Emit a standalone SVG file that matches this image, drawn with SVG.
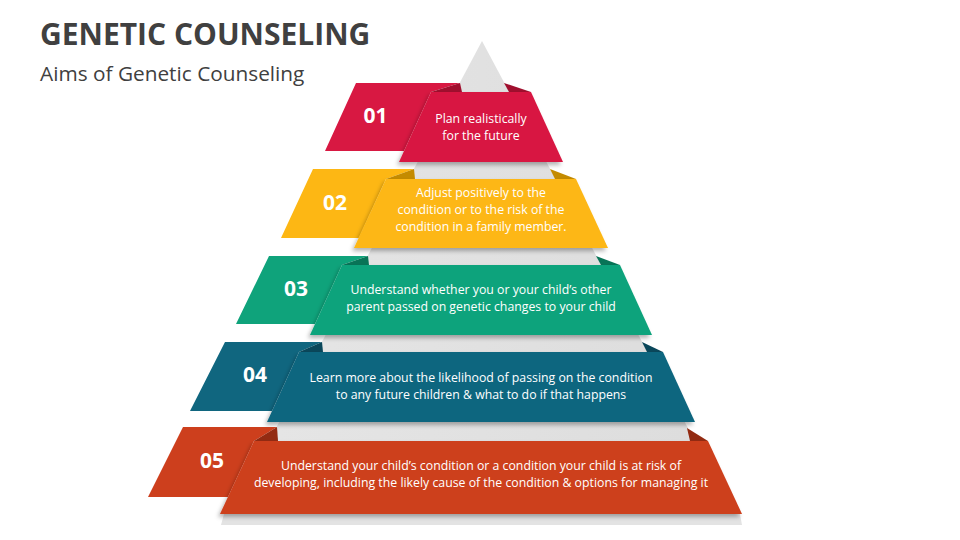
<svg xmlns="http://www.w3.org/2000/svg" width="960" height="540" viewBox="0 0 960 540">
<defs>
<style>
.title{font-family:"Open Sans","Liberation Sans",sans-serif;font-weight:700;font-size:30px;fill:#404040}
.sub{font-family:"Open Sans","Liberation Sans",sans-serif;font-size:20.8px;fill:#404040}
.num{font-family:"Open Sans","Liberation Sans",sans-serif;font-weight:700;font-size:21px;fill:#fff;text-anchor:middle}
.txt{font-family:"Open Sans","Liberation Sans",sans-serif;font-size:12.3px;font-weight:500;fill:#fff;text-anchor:middle}
.front{filter:url(#sh)}
.c1{fill:#D81842}.d1{fill:#A00F2E}
.c2{fill:#FDB714}.d2{fill:#C48B00}
.c3{fill:#0FA37B}.d3{fill:#087457}
.c4{fill:#10667F}.d4{fill:#0A475A}
.c5{fill:#CD3F1D}.d5{fill:#932B12}
</style>
<filter id="sh" x="-10%" y="-20%" width="120%" height="150%">
<feDropShadow dx="-2" dy="3" stdDeviation="2" flood-color="#000" flood-opacity="0.3"/>
</filter>
<linearGradient id="pg" x1="0" y1="0" x2="1" y2="0">
<stop offset="0" stop-color="#e6e6e6"/>
<stop offset="1" stop-color="#dcdcdc"/>
</linearGradient>
</defs>
<rect width="960" height="540" fill="#fff"/>
<text class="title" x="40" y="45">GENETIC COUNSELING</text>
<text class="sub" x="40" y="81">Aims of Genetic Counseling</text>

<g id="pyramid">
<polygon points="482,41 226,522 738,522" fill="url(#pg)"/>
<polygon points="224,514 740,514 742,525 221,525" fill="#e3e3e3"/>
</g>

<g id="band-1">
<polygon class="c1" points="356,83 460,83 431,92 404,151 325,151"/>
<polygon class="d1" points="460,83 431,92 462,92"/>
<polygon class="d1" points="504,83 531,92 509,92"/>
<polygon class="c1 front" points="431,92 531,92 563,162 399,162"/>
<text class="num" x="375.5" y="123">01</text>
<text class="txt" x="481" y="123">Plan realistically</text>
<text class="txt" x="481" y="139.5">for the future</text>
</g>

<g id="band-2">
<polygon class="c2" points="313,169 414,169 386,179 359,238 281,238"/>
<polygon class="d2" points="414,169 386,179 415,179"/>
<polygon class="d2" points="550,169 576,179 555,179"/>
<polygon class="c2 front" points="386,179 576,179 608,248 354,248"/>
<text class="num" x="335" y="210">02</text>
<text class="txt" x="481" y="197">Adjust positively to the</text>
<text class="txt" x="481" y="214">condition or to the risk of the</text>
<text class="txt" x="481" y="231">condition in a family member.</text>
</g>

<g id="band-3">
<polygon class="c3" points="269,256 368,256 342,265 315,324 236,324"/>
<polygon class="d3" points="368,256 342,265 369,265"/>
<polygon class="d3" points="596,256 620,265 601,265"/>
<polygon class="c3 front" points="342,265 620,265 652,335 310,335"/>
<text class="num" x="296" y="296">03</text>
<text class="txt" x="481" y="294">Understand whether you or your child’s other</text>
<text class="txt" x="481" y="311">parent passed on genetic changes to your child</text>
</g>

<g id="band-4">
<polygon class="c4" points="225,342 322,342 299,352 272,411 190,411"/>
<polygon class="d4" points="322,342 299,352 323,352"/>
<polygon class="d4" points="642,342 663,352 647,352"/>
<polygon class="c4 front" points="299,352 663,352 695,422 267,422"/>
<text class="num" x="255" y="382">04</text>
<text class="txt" x="481" y="381.5">Learn more about the likelihood of passing on the condition</text>
<text class="txt" x="481" y="398.5">to any future children &amp; what to do if that happens</text>
</g>

<g id="band-5">
<polygon class="c5" points="183,427 277,427 254,441 228,497 148,497"/>
<polygon class="d5" points="277,427 254,441 278,441"/>
<polygon class="d5" points="687,428 708,441 690,441"/>
<polygon class="c5 front" points="254,441 708,441 742,514 220,514"/>
<text class="num" x="212" y="468">05</text>
<text class="txt" x="481" y="470">Understand your child’s condition or a condition your child is at risk of</text>
<text class="txt" x="481" y="487">developing, including the likely cause of the condition &amp; options for managing it</text>
</g>
</svg>
